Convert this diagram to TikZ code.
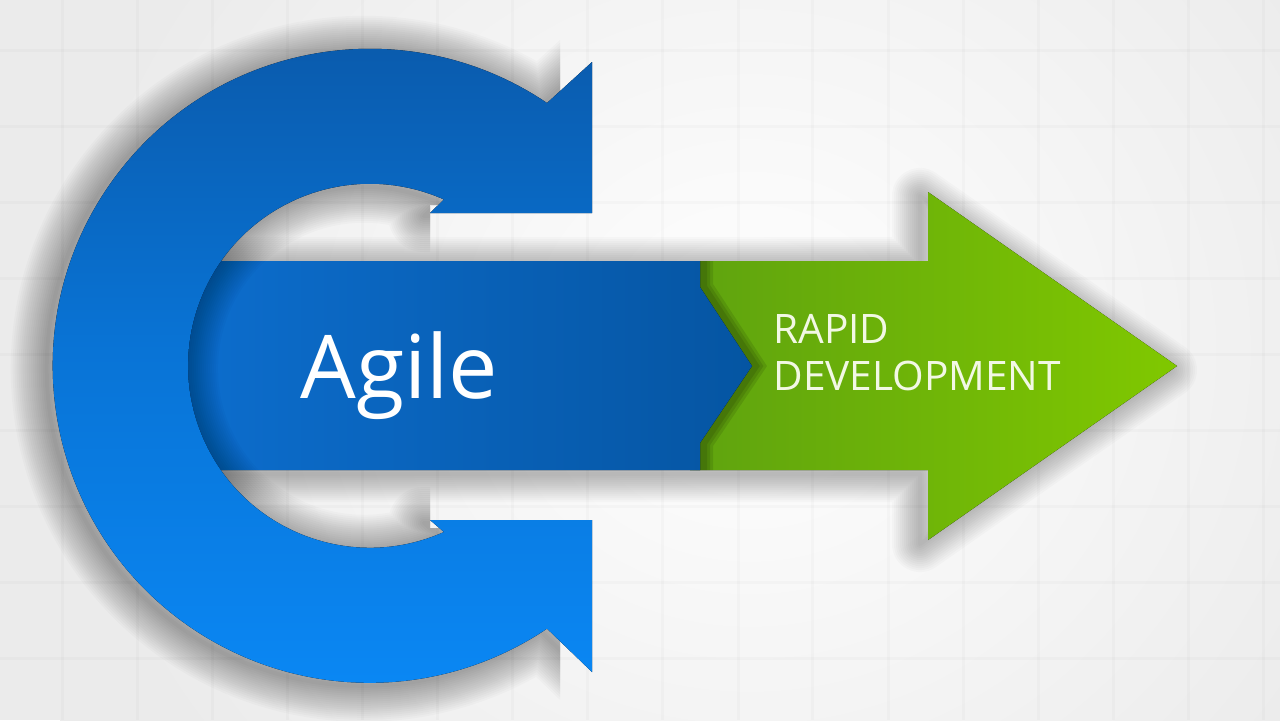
\documentclass[tikz,border=0pt]{standalone}
\usepackage{fontspec}
\setmainfont{Open Sans}
\definecolor{bgc}{HTML}{EBEBEB}
\definecolor{ctop}{HTML}{0A58A8}
\definecolor{cmid}{HTML}{0974D6}
\definecolor{cbot}{HTML}{0A88F5}
\definecolor{barL}{HTML}{0D6FD0}
\definecolor{barR}{HTML}{0555A2}
\definecolor{grnL}{HTML}{5FA30F}
\definecolor{grnR}{HTML}{80C800}
\definecolor{rapidc}{HTML}{F2F8E4}
\def\Cpath{(592,62) -- (547,103) arc[start angle=-56, end angle=-304, radius=317] -- (592,672) -- (592,520) -- (430,520) -- (444,532) arc[start angle=66, end angle=294, radius=182] -- (430,213) -- (592,213) -- cycle}
\def\Allpath{(150,261) -- (928,261) -- (928,192) -- (1177,366) -- (928,540) -- (928,470) -- (150,470) -- cycle}
\def\Greenpath{(690,261) -- (928,261) -- (928,192) -- (1177,366) -- (928,540) -- (928,470) -- (690,470) -- cycle}
\def\Bluepath{(150,261) -- (700,261) -- (700,287) -- (752,366) -- (700,443) -- (700,470) -- (150,470) -- cycle}
\tikzset{
  shadowstroke/.style={black, opacity=0.02, line join=round},
  label/.style={anchor=base west, inner sep=0pt}
}
\begin{document}
\begin{tikzpicture}[x=0.5pt,y=-0.5pt]
\useasboundingbox (0,0) rectangle (1280,720);
% background
\begin{scope}
\clip (0,0) rectangle (1280,720);
\fill[bgc] (0,0) rectangle (1280,720);
\fill[inner color=white, outer color=bgc] (60,-300) rectangle (1440,1000);
\foreach \gx in {62,137,212,287,362,437,512,587,662,738,812,888,963,1038,1113,1188,1263}
  \draw[black, opacity=0.018, line width=1.5pt] (\gx,0) -- (\gx,720);
\foreach \gy in {50,126,202,278,354,430,506,582,658}
  \draw[black, opacity=0.018, line width=1.5pt] (0,\gy) -- (1280,\gy);
\end{scope}
% shadow of the bar and green arrow
\begin{scope}[shift={(-8,4)}]
\foreach \i [evaluate=\i as \w using \i*2] in {1,...,14}
  \draw[shadowstroke, line width=\w pt] \Allpath;
\end{scope}
% green arrow
\fill[left color=grnL, right color=grnR] \Greenpath;
% dark green shadow along the chevron
\begin{scope}
\clip \Greenpath;
\foreach \w in {10,7,4}
  \draw[black, opacity=0.1, line width=\w pt, line join=miter] (703,240) -- (703,287) -- (755,366) -- (703,443) -- (703,490);
\end{scope}
% blue bar
\fill[left color=barL, right color=barR] \Bluepath;
% shadow of the C
\begin{scope}
\clip (-100,-100) -- (560,-100) -- (560,205) -- (430,205) -- (430,528) -- (560,528) -- (560,820) -- (-100,820) -- cycle;
\begin{scope}[shift={(-6,3)}]
\foreach \i [evaluate=\i as \w using \i*2] in {1,...,18}
  \draw[shadowstroke, line width=\w pt] \Cpath;
\end{scope}
\end{scope}
% the C
\fill[top color=ctop, bottom color=cbot, middle color=cmid] \Cpath;
% texts
\node[label, text=white, font=\fontsize{44}{50}\selectfont] (agile) at (300,398) {Agile};
\node[label, text=rapidc, font=\fontsize{20.3}{24}\selectfont] (rapid) at (773,343) {RAPID};
\node[label, text=rapidc, font=\fontsize{20.3}{24}\selectfont] (dev) at (773,390) {DEVELOPMENT};
\end{tikzpicture}
\end{document}
